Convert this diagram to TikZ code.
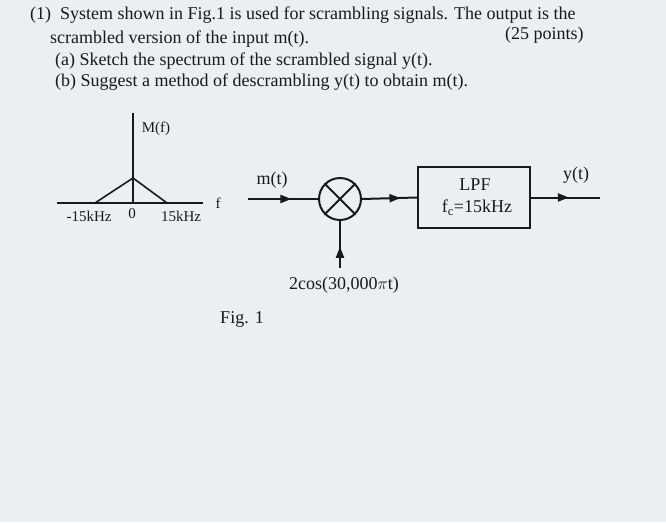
\documentclass[tikz,border=0pt]{standalone}
\usepackage{fontspec}
\setmainfont{Liberation Serif}
\usetikzlibrary{decorations.markings,arrows.meta}
\definecolor{paper}{RGB}{236,239,242}
\definecolor{ink}{RGB}{25,25,25}
\begin{document}
\begin{tikzpicture}[x=1pt,y=-1pt,font=\fontsize{18}{21}\selectfont,text=ink,
  wire/.style={draw=ink,line width=2pt},
  midarrow/.style={wire,postaction={decorate},decoration={markings,mark=at position #1 with {\arrow{Triangle[length=11pt,width=8pt]}}}},
  lbl/.style={inner sep=0pt},
  small/.style={lbl,font=\fontsize{15}{17}\selectfont}]
\fill[paper] (0,0) rectangle (666,522);
\useasboundingbox (0,0) rectangle (666,522);
\node[lbl,anchor=west] (t1) at (30,15) {(1)\ \ System shown in Fig.1 is used for scrambling signals. The output is the};
\node[lbl,anchor=west] (t2) at (50,39) {scrambled version of the input m(t).};
\node[lbl,anchor=west] (t2b) at (505,35) {(25 points)};
\node[lbl,anchor=west] (t3) at (55,61) {(a) Sketch the spectrum of the scrambled signal y(t).};
\node[lbl,anchor=west] (t4) at (55,82) {(b) Suggest a method of descrambling y(t) to obtain m(t).};
% spectrum
\coordinate (vt) at (133,113); \coordinate (vb) at (133,203);
\coordinate (hl) at (57,203); \coordinate (hr) at (203,203);
\coordinate (pk) at (133,178); \coordinate (bl) at (95,203); \coordinate (br) at (167,203);
\draw[wire,line width=1.6pt] (vt)--(vb);
\draw[wire,line width=1.6pt] (hl)--(hr);
\draw[wire,line width=1.6pt] (bl)--(pk)--(br);
\node[small] (mf) at (156,129) {M(f)};
\node[small] (m15) at (89,216) {-15kHz};
\node[small] (z) at (132,214) {0};
\node[small] (p15) at (181,216) {15kHz};
\node[small] (f) at (218,203) {f};
% block diagram
\coordinate (in) at (248,199);
\node[draw=ink,line width=2pt,circle,minimum size=42pt,inner sep=0pt] (mul) at (340,199) {};
\draw[wire] (mul.north west)--(mul.south east) (mul.north east)--(mul.south west);
\node[draw=ink,line width=2pt,minimum width=112pt,minimum height=61pt,inner sep=0pt] (lpf) at (474,197.5) {};
\node[lbl] (lpft) at (475,185) {LPF};
\node[lbl] (fc) at (477,208) {f$_{\mathrm c}$=15kHz};
\coordinate (out) at (600,197.5);
\coordinate (cos) at (340,268);
\path[midarrow=0.62] (in)--(mul.west);
\path[midarrow=0.7] (mul.east)--(lpf.west);
\path[midarrow=0.55] (lpf.east)--(out);
\path[midarrow=0.45] (cos)--(mul.south);
\node[lbl] (mt) at (272,180) {m(t)};
\node[lbl] (yt) at (576,175) {y(t)};
\node[lbl] (cl) at (344,285) {2cos(30,000$\pi$t)};
\node[lbl] (fig) at (242,319) {Fig. 1};
\end{tikzpicture}
\end{document}
